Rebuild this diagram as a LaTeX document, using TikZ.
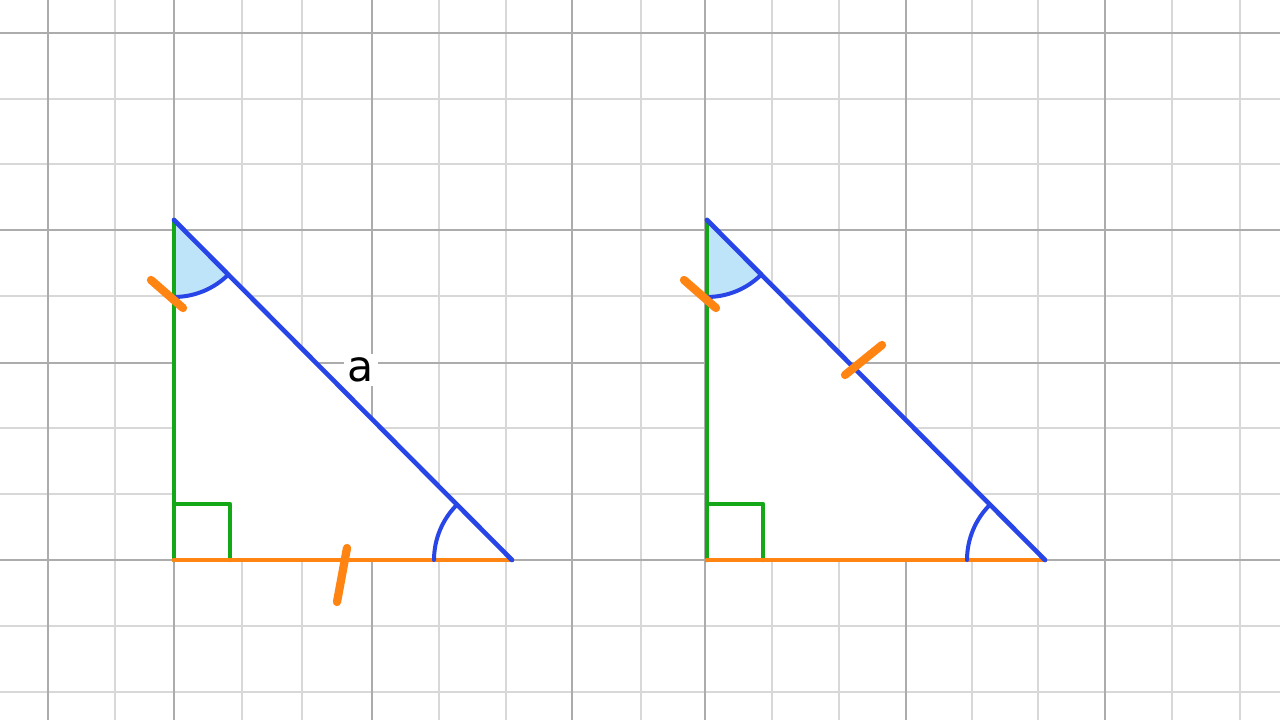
\documentclass[tikz,border=0pt]{standalone}
\usepackage{fontspec}
\setsansfont{DejaVu Sans}

\definecolor{gridlight}{RGB}{216,216,216}
\definecolor{griddark}{RGB}{172,172,172}
\definecolor{legsgreen}{RGB}{20,168,24}
\definecolor{hypblue}{RGB}{40,70,232}
\definecolor{baseorange}{RGB}{255,132,18}
\definecolor{angleblue}{RGB}{190,228,250}

\begin{document}
\begin{tikzpicture}[x=0.75pt,y=0.75pt,line cap=round,line join=round]
\fill[white] (0,0) rectangle (1280,720);
\useasboundingbox (0,0) rectangle (1280,720);
\foreach \gx in {115,242,302,439,506,641,772,839,972,1038,1172,1240}
  \draw[gridlight,line width=1.5pt,line cap=butt] (\gx,0) -- (\gx,720);
\foreach \gy in {621,556,424,292,226,94,28}
  \draw[gridlight,line width=1.5pt,line cap=butt] (0,\gy) -- (1280,\gy);
\foreach \gx in {48,174,372,572,705,906,1105}
  \draw[griddark,line width=1.9pt,line cap=butt] (\gx,0) -- (\gx,720);
\foreach \gy in {687,490,357,160}
  \draw[griddark,line width=1.9pt,line cap=butt] (0,\gy) -- (1280,\gy);
\foreach \ox/\t in {174/1,707/2} {
  \coordinate (top\t) at (\ox,500);
  \coordinate (rt\t) at (\ox,160);
  \coordinate (end\t) at (\ox+338,160);
  \fill[white] (top\t) -- (rt\t) -- (end\t) -- cycle;
  \fill[angleblue] (top\t) -- ++(270:77) arc[start angle=270,end angle=315,radius=77] -- cycle;
  \draw[legsgreen,line width=3.5pt] (top\t) -- (rt\t);
  \draw[legsgreen,line width=3.2pt] (rt\t) ++(0,56) -- ++(56,0) -- ++(0,-56);
  \draw[baseorange,line width=3.5pt] (rt\t) -- (end\t);
  \draw[hypblue,line width=3pt] (top\t) ++(270:77) arc[start angle=270,end angle=315,radius=77];
  \draw[hypblue,line width=3pt] (end\t) ++(180:78) arc[start angle=180,end angle=135,radius=78];
  \draw[hypblue,line width=3.5pt] (top\t) -- (end\t);
  \draw[baseorange,line width=6.2pt] (\ox-23,440) -- (\ox+9,412);
}
\draw[baseorange,line width=6.2pt] (347,172) -- (337,118);
\draw[baseorange,line width=6.2pt] (845,345) -- (882,375);
\node[fill=white,inner sep=3pt,font=\sffamily\fontsize{32}{34}\selectfont] (sidea) at (361,350) {a};
\end{tikzpicture}
\end{document}
